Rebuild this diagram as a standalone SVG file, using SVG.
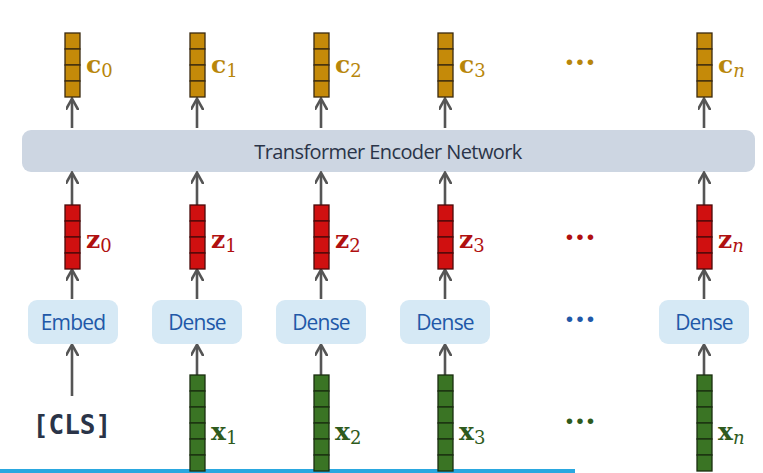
<svg xmlns="http://www.w3.org/2000/svg" width="763" height="473" viewBox="0 0 763 473">
<defs>
<style>
.c{fill:#c58a09;stroke:#3a2a10;stroke-width:1.3}
.z{fill:#d01010;stroke:#4a0a0a;stroke-width:1.3}
.x{fill:#3a7424;stroke:#1a2e10;stroke-width:1.3}
.a{stroke:#555;stroke-width:2.6;fill:none;marker-end:url(#ah)}
.box{fill:#d6e9f5}
.bt{font-family:"Open Sans","DejaVu Sans",sans-serif;font-size:21px;fill:#2158a8;text-anchor:middle;letter-spacing:-0.8px}
.lab{font-family:"DejaVu Serif",serif;font-weight:bold;font-size:25px}
.sub{font-family:"DejaVu Serif",serif;font-weight:normal;font-size:18px}
.dots{font-family:"DejaVu Serif",serif;font-weight:bold;font-size:30px;text-anchor:middle}
</style>
<marker id="ah" viewBox="0 0 10 10" refX="8" refY="5" markerWidth="5" markerHeight="5" orient="auto"><path d="M0,0 L9,5 L0,10" fill="none" stroke="#555" stroke-width="2"/></marker>
</defs>
<rect x="0" y="469" width="575" height="4" fill="#2aa8e0"/>
<g id="encoder"><rect x="22" y="130" width="733" height="42" rx="9" fill="#cdd6e2"/>
<text x="388" y="159" font-family="Open Sans,DejaVu Sans,sans-serif" font-size="20" letter-spacing="-0.6" fill="#2a3448" text-anchor="middle">Transformer Encoder Network</text></g>
<g id="connectors">
<path class="a" d="M72 128V100"/><path class="a" d="M197 128V100"/><path class="a" d="M321 128V100"/><path class="a" d="M445 128V100"/><path class="a" d="M704 128V100"/>
<path class="a" d="M72 205V174"/><path class="a" d="M197 205V174"/><path class="a" d="M321 205V174"/><path class="a" d="M445 205V174"/><path class="a" d="M704 205V174"/>
<path class="a" d="M72 299V271"/><path class="a" d="M197 299V271"/><path class="a" d="M321 299V271"/><path class="a" d="M445 299V271"/><path class="a" d="M704 299V271"/>
<path class="a" d="M72 396V346"/><path class="a" d="M197 375V346"/><path class="a" d="M321 375V346"/><path class="a" d="M445 375V346"/><path class="a" d="M704 375V346"/>
</g>
<g id="c-vectors">
<g id="c0"><rect class="c" x="65" y="33" width="15" height="16"/><rect class="c" x="65" y="49" width="15" height="16"/><rect class="c" x="65" y="65" width="15" height="16"/><rect class="c" x="65" y="81" width="15" height="16"/></g>
<g id="c1"><rect class="c" x="190" y="33" width="15" height="16"/><rect class="c" x="190" y="49" width="15" height="16"/><rect class="c" x="190" y="65" width="15" height="16"/><rect class="c" x="190" y="81" width="15" height="16"/></g>
<g id="c2"><rect class="c" x="314" y="33" width="15" height="16"/><rect class="c" x="314" y="49" width="15" height="16"/><rect class="c" x="314" y="65" width="15" height="16"/><rect class="c" x="314" y="81" width="15" height="16"/></g>
<g id="c3"><rect class="c" x="438" y="33" width="15" height="16"/><rect class="c" x="438" y="49" width="15" height="16"/><rect class="c" x="438" y="65" width="15" height="16"/><rect class="c" x="438" y="81" width="15" height="16"/></g>
<g id="cn"><rect class="c" x="697" y="33" width="15" height="16"/><rect class="c" x="697" y="49" width="15" height="16"/><rect class="c" x="697" y="65" width="15" height="16"/><rect class="c" x="697" y="81" width="15" height="16"/></g>
<g fill="#b8860b" class="lab">
<text x="86" y="73">c<tspan class="sub" dy="4">0</tspan></text>
<text x="211" y="73">c<tspan class="sub" dy="4">1</tspan></text>
<text x="335" y="73">c<tspan class="sub" dy="4">2</tspan></text>
<text x="459" y="73">c<tspan class="sub" dy="4">3</tspan></text>
<text x="718" y="73">c<tspan class="sub" dy="4" font-style="italic">n</tspan></text>
<text x="580" y="73" class="dots">···</text>
</g></g>
<g id="z-vectors">
<g id="z0"><rect class="z" x="65" y="205" width="15" height="16"/><rect class="z" x="65" y="221" width="15" height="16"/><rect class="z" x="65" y="237" width="15" height="16"/><rect class="z" x="65" y="253" width="15" height="16"/></g>
<g id="z1"><rect class="z" x="190" y="205" width="15" height="16"/><rect class="z" x="190" y="221" width="15" height="16"/><rect class="z" x="190" y="237" width="15" height="16"/><rect class="z" x="190" y="253" width="15" height="16"/></g>
<g id="z2"><rect class="z" x="314" y="205" width="15" height="16"/><rect class="z" x="314" y="221" width="15" height="16"/><rect class="z" x="314" y="237" width="15" height="16"/><rect class="z" x="314" y="253" width="15" height="16"/></g>
<g id="z3"><rect class="z" x="438" y="205" width="15" height="16"/><rect class="z" x="438" y="221" width="15" height="16"/><rect class="z" x="438" y="237" width="15" height="16"/><rect class="z" x="438" y="253" width="15" height="16"/></g>
<g id="zn"><rect class="z" x="697" y="205" width="15" height="16"/><rect class="z" x="697" y="221" width="15" height="16"/><rect class="z" x="697" y="237" width="15" height="16"/><rect class="z" x="697" y="253" width="15" height="16"/></g>
<g fill="#b01010" class="lab">
<text x="86" y="248">z<tspan class="sub" dy="4">0</tspan></text>
<text x="211" y="248">z<tspan class="sub" dy="4">1</tspan></text>
<text x="335" y="248">z<tspan class="sub" dy="4">2</tspan></text>
<text x="459" y="248">z<tspan class="sub" dy="4">3</tspan></text>
<text x="718" y="248">z<tspan class="sub" dy="4" font-style="italic">n</tspan></text>
<text x="580" y="248" class="dots">···</text>
</g></g>
<g id="embed"><rect class="box" x="28" y="300" width="90" height="44" rx="9"/><text class="bt" x="73" y="330">Embed</text></g>
<g id="dense1"><rect class="box" x="152" y="300" width="90" height="44" rx="9"/><text class="bt" x="197" y="330">Dense</text></g>
<g id="dense2"><rect class="box" x="276" y="300" width="90" height="44" rx="9"/><text class="bt" x="321" y="330">Dense</text></g>
<g id="dense3"><rect class="box" x="400" y="300" width="90" height="44" rx="9"/><text class="bt" x="445" y="330">Dense</text></g>
<g id="densen"><rect class="box" x="659" y="300" width="90" height="44" rx="9"/><text class="bt" x="704" y="330">Dense</text></g>
<text x="580" y="330" class="dots" fill="#2158a8">···</text>
<g id="cls"><text x="72" y="434" text-anchor="middle" font-family="DejaVu Sans Mono,monospace" font-weight="bold" font-size="26" fill="#2a3448">[CLS]</text></g>
<g id="x-vectors">
<g id="x1"><rect class="x" x="190" y="375" width="15" height="16"/><rect class="x" x="190" y="391" width="15" height="16"/><rect class="x" x="190" y="407" width="15" height="16"/><rect class="x" x="190" y="423" width="15" height="16"/><rect class="x" x="190" y="439" width="15" height="16"/><rect class="x" x="190" y="455" width="15" height="16"/></g>
<g id="x2"><rect class="x" x="314" y="375" width="15" height="16"/><rect class="x" x="314" y="391" width="15" height="16"/><rect class="x" x="314" y="407" width="15" height="16"/><rect class="x" x="314" y="423" width="15" height="16"/><rect class="x" x="314" y="439" width="15" height="16"/><rect class="x" x="314" y="455" width="15" height="16"/></g>
<g id="x3"><rect class="x" x="438" y="375" width="15" height="16"/><rect class="x" x="438" y="391" width="15" height="16"/><rect class="x" x="438" y="407" width="15" height="16"/><rect class="x" x="438" y="423" width="15" height="16"/><rect class="x" x="438" y="439" width="15" height="16"/><rect class="x" x="438" y="455" width="15" height="16"/></g>
<g id="xn"><rect class="x" x="697" y="375" width="15" height="16"/><rect class="x" x="697" y="391" width="15" height="16"/><rect class="x" x="697" y="407" width="15" height="16"/><rect class="x" x="697" y="423" width="15" height="16"/><rect class="x" x="697" y="439" width="15" height="16"/><rect class="x" x="697" y="455" width="15" height="16"/></g>
<g fill="#2e5a1c" class="lab">
<text x="211" y="440">x<tspan class="sub" dy="4">1</tspan></text>
<text x="335" y="440">x<tspan class="sub" dy="4">2</tspan></text>
<text x="459" y="440">x<tspan class="sub" dy="4">3</tspan></text>
<text x="718" y="440">x<tspan class="sub" dy="4" font-style="italic">n</tspan></text>
<text x="580" y="432" class="dots">···</text>
</g></g>
</svg>
